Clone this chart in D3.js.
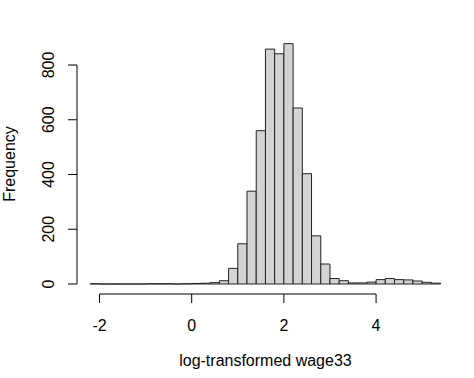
<!DOCTYPE html>
<html>
<head>
<meta charset="utf-8">
<script src="https://cdn.jsdelivr.net/npm/d3@7"></script>
<style>
  body { margin: 0; background: #fff; }
  text { font-family: "Liberation Sans", Arial, sans-serif; }
</style>
</head>
<body>
<svg id="chart" width="474" height="378"></svg>
<script>
// histogram of log wage, bins of width 0.2
var binStart = [-2.2,-2.0,-1.8,-1.6,-1.4,-1.2,-1.0,-0.8,-0.6,-0.4,-0.2,0.0,0.2,0.4,0.6,0.8,1.0,1.2,1.4,1.6,1.8,2.0,2.2,2.4,2.6,2.8,3.0,3.2,3.4,3.6,3.8,4.0,4.2,4.4,4.6,4.8,5.0,5.2]
var counts   = [1,0,0,0,0,0,1,1,1,0,1,2,3,5,12,57,147,339,560,858,841,878,643,403,176,73,20,12,4,4,7,16,20,16,15,11,6,3]
var binWidth = 0.2
var xTicks = [-2,0,2,4]
var yTicks = [0,200,400,600,800]

var svg = d3.select("#chart")
var fs = 16

var x = d3.scaleLinear().domain([-2.2, 5.4]).range([90.3, 440.6])
var y = d3.scaleLinear().domain([0, 800]).range([284, 65])

// paths instead of rects so empty bins still show as a line on the baseline
svg.append("g")
    .selectAll("path")
    .data(binStart)
    .join("path")
    .attr("d", (d, i) => {
        var x0 = x(d), x1 = x(d + binWidth)
        return `M${x0},${y(0)}V${y(counts[i])}H${x1}V${y(0)}Z`
    })
    .attr("fill", "#d3d3d3")
    .attr("stroke", "#222")
    .attr("stroke-width", 1)

// x axis, R style: line only between first and last tick
var xAxis = svg.append("g").attr("transform", "translate(0,294)")
xAxis.append("line")
    .attr("x1", x(xTicks[0])).attr("x2", x(xTicks[xTicks.length - 1]))
    .attr("stroke", "#000")
xAxis.selectAll(".tick")
    .data(xTicks)
    .join("line")
    .attr("x1", (d) => x(d)).attr("x2", (d) => x(d))
    .attr("y1", 0).attr("y2", 9)
    .attr("stroke", "#000")
xAxis.selectAll("text")
    .data(xTicks)
    .join("text")
    .attr("x", (d) => x(d))
    .attr("y", 37)
    .attr("text-anchor", "middle")
    .attr("font-size", fs)
    .text((d) => d)

var yAxis = svg.append("g").attr("transform", "translate(77,0)")
yAxis.append("line")
    .attr("y1", y(yTicks[0])).attr("y2", y(yTicks[yTicks.length - 1]))
    .attr("stroke", "#000")
yAxis.selectAll(".tick")
    .data(yTicks)
    .join("line")
    .attr("y1", (d) => y(d)).attr("y2", (d) => y(d))
    .attr("x1", 0).attr("x2", -9)
    .attr("stroke", "#000")
yAxis.selectAll("text")
    .data(yTicks)
    .join("text")
    .attr("transform", (d) => `translate(-23,${y(d)}) rotate(-90)`)
    .attr("text-anchor", "middle")
    .attr("font-size", fs)
    .text((d) => d)

svg.append("text")
    .attr("x", (x(-2.2) + x(5.4)) / 2)
    .attr("y", 366)
    .attr("text-anchor", "middle")
    .attr("font-size", fs)
    .text("log-transformed wage33")

svg.append("text")
    .attr("transform", "translate(15,164) rotate(-90)")
    .attr("text-anchor", "middle")
    .attr("font-size", fs)
    .text("Frequency")
</script>
</body>
</html>
